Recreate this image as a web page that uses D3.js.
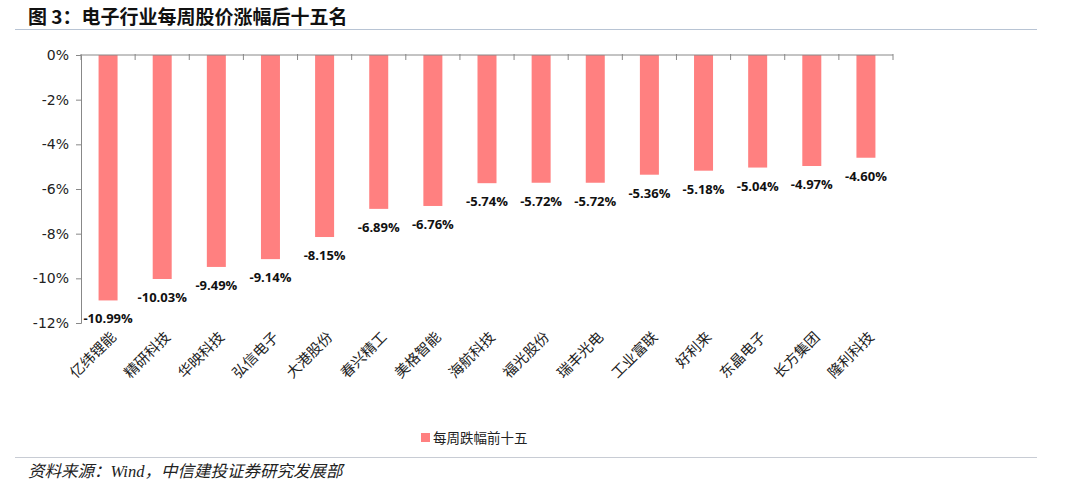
<!DOCTYPE html>
<html>
<head>
<meta charset="utf-8">
<script src="https://cdn.jsdelivr.net/npm/d3@7"></script>
<style>
  body { margin: 0; background: #fff; }
  svg { display: block; font-family: "Noto Sans CJK SC", "Noto Sans", sans-serif; }
</style>
</head>
<body>
<div id="chart"></div>
<script>
// Data
const categories = ['亿纬锂能', '精研科技', '华映科技', '弘信电子', '大港股份', '春兴精工', '美格智能',
                    '海航科技', '福光股份', '瑞丰光电', '工业富联', '好利来', '东晶电子', '长方集团', '隆利科技'];
const values = [-10.99, -10.03, -9.49, -9.14, -8.15, -6.89, -6.76,
                -5.74, -5.72, -5.72, -5.36, -5.18, -5.04, -4.97, -4.60];
const yTicks = [0, -2, -4, -6, -8, -10, -12];
const seriesName = '每周跌幅前十五';

const W = 1080, H = 489;
const svg = d3.select('#chart').append('svg')
  .attr('width', W).attr('height', H);

// Title and rules
svg.append('text')
  .attr('x', 28).attr('y', 24)
  .attr('font-size', 19).attr('font-weight', 'bold').attr('fill', '#111')
  .text('图 3：电子行业每周股价涨幅后十五名');
svg.append('line').attr('x1', 15).attr('x2', 1037).attr('y1', 29.5).attr('y2', 29.5)
  .attr('stroke', '#b8c4d4').attr('stroke-width', 1.2);
svg.append('line').attr('x1', 15).attr('x2', 1037).attr('y1', 457.5).attr('y2', 457.5)
  .attr('stroke', '#c8ccd4').attr('stroke-width', 1.2);
svg.append('text')
  .attr('x', 28).attr('y', 477)
  .attr('font-size', 16.5).attr('font-style', 'italic').attr('fill', '#222')
  .attr('font-family', '"Liberation Serif", "Noto Sans CJK SC", serif')
  .text('资料来源：Wind，中信建投证券研究发展部');

// Scales
const x = d3.scaleBand().domain(categories).range([81, 893]).paddingInner(0).paddingOuter(0);
const y = d3.scaleLinear().domain([-12, 0]).range([323, 55]);
const barW = 19;

// Y axis
const yAxis = svg.append('g')
  .attr('transform', 'translate(81,0)')
  .call(d3.axisLeft(y).tickValues(yTicks).tickSize(5).tickPadding(7).tickFormat(d => d + '%'));
yAxis.select('.domain').attr('stroke', '#888');
yAxis.selectAll('.tick line').attr('stroke', '#888');
yAxis.selectAll('text').attr('font-size', 14).attr('fill', '#222')
  .attr('font-family', '"DejaVu Sans", sans-serif');

// Bars
svg.selectAll('.bar')
  .data(values)
  .enter()
  .append('rect')
  .attr('class', 'bar')
  .attr('x', (d, i) => x(categories[i]) + x.bandwidth() / 2 - barW / 2)
  .attr('y', y(0))
  .attr('width', barW)
  .attr('height', d => y(d) - y(0))
  .attr('fill', '#ff8080');

// Category axis along the 0% line
const xAxis = svg.append('g').attr('transform', `translate(0,${y(0)})`);
xAxis.append('line').attr('x1', 81).attr('x2', 893).attr('stroke', '#888');
xAxis.selectAll('.sep')
  .data(d3.range(categories.length + 1))
  .enter()
  .append('line')
  .attr('x1', i => 81 + i * x.step()).attr('x2', i => 81 + i * x.step())
  .attr('y1', -1).attr('y2', 5)
  .attr('stroke', '#888');

// Value labels
svg.selectAll('.val')
  .data(values)
  .enter()
  .append('text')
  .attr('x', (d, i) => x(categories[i]) + x.bandwidth() / 2)
  .attr('y', d => y(d) + 23)
  .attr('text-anchor', 'middle')
  .attr('font-size', 13).attr('font-weight', 'bold').attr('fill', '#111')
  .attr('font-family', '"Open Sans", "DejaVu Sans", sans-serif')
  .text(d => d.toFixed(2) + '%');

// Rotated category labels
svg.selectAll('.cat')
  .data(categories)
  .enter()
  .append('text')
  .attr('transform', d => `translate(${x(d) + x.bandwidth() / 2 + 9},${338}) rotate(-45)`)
  .attr('text-anchor', 'end')
  .attr('font-size', 14.5).attr('fill', '#222')
  .text(d => d);

// Legend
svg.append('rect').attr('x', 421).attr('y', 433).attr('width', 9).attr('height', 9).attr('fill', '#ff8080');
svg.append('text').attr('x', 433).attr('y', 442.5)
  .attr('font-size', 13.5).attr('fill', '#222')
  .text(seriesName);
</script>
</body>
</html>
